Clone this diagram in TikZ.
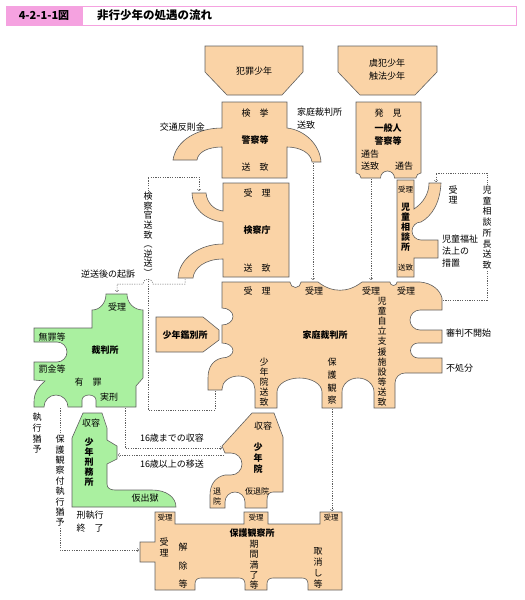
\documentclass[tikz,border=0pt]{standalone}
\usepackage{fontspec}
\newfontfamily\jp{Noto Sans CJK JP}
\definecolor{peach}{RGB}{250,211,166}
\definecolor{leaf}{RGB}{170,240,160}
\definecolor{rim}{RGB}{95,95,95}
\definecolor{bar}{RGB}{245,162,224}
\begin{document}
\begin{tikzpicture}[x=1pt,y=-1pt,
  font=\jp\fontsize{9}{10.5}\selectfont,
  box/.style={draw=rim, line width=0.6pt, fill=peach},
  gbox/.style={draw=rim, line width=0.6pt, fill=leaf},
  lab/.style={inner sep=0pt},
  org/.style={inner sep=0pt, font=\jp\bfseries\fontsize{9}{10}\selectfont},
  minor/.style={inner sep=0pt, font=\jp\fontsize{7.5}{8.5}\selectfont},
  vlab/.style={inner sep=0pt, align=center, anchor=north, font=\jp\fontsize{9}{#1}\selectfont},
  vlab/.default=10,
  flow/.style={->, draw=rim, line width=0.5pt, dash pattern=on 1.2pt off 1.2pt},
]
\useasboundingbox (0,0) rectangle (525,600);

% header
\fill[bar] (6,6) rectangle (83,25);
\draw[bar, line width=0.8pt] (6,6) rectangle (516,25);
\node[lab, font=\jp\bfseries\fontsize{11}{13}\selectfont] (figno) at (44,15.5) {4-2-1-1図};
\node[lab, anchor=west, font=\jp\bfseries\fontsize{11.5}{13}\selectfont] (figtitle) at (97,15.5) {非行少年の処遇の流れ};

% sources
\draw[box] (205,46) -- (303,46) -- (303,72) -- (282,95) -- (227,95) -- (205,72) -- cycle;
\node[lab] (hanzai) at (254,71) {犯罪少年};
\draw[box] (338,46) -- (437,46) -- (437,72) -- (415,95) -- (360,95) -- (338,72) -- cycle;
\node[lab, align=center, font=\jp\fontsize{9}{13}\selectfont] (guhan) at (387,70) {虞犯少年\\触法少年};

% police
\draw[box] (222,102) -- (287,102) -- (287,128) .. controls (305,130) and (320,145) .. (321,162) -- (312,162) .. controls (311,153) and (300,147) .. (287,147) -- (287,178) -- (222,178) -- (222,147) .. controls (208,147) and (198,152) .. (197,160) -- (173,160) .. controls (176,140) and (198,128) .. (222,128) -- cycle;
\node[lab] (kenkyo) at (255,113) {検\quad 挙};
\node[org] (keisatsu) at (255,140) {警察等};
\node[lab] (sochiA) at (255,167) {送\quad 致};
\node[lab, anchor=east] (hansoku) at (205,127) {交通反則金};
\node[lab, anchor=west, align=left, font=\jp\fontsize{9}{13}\selectfont] (kasaiSochi) at (297,119) {家庭裁判所\\送致};

\draw[box] (356,102) -- (421,102) -- (421,173) arc[start angle=270, end angle=180, radius=5] -- (394.5,178) arc[start angle=0, end angle=-180, radius=7] -- (361,178) arc[start angle=0, end angle=-90, radius=5] -- cycle;
\node[lab] (hakken) at (388,113) {発\quad 見};
\node[org, align=center, font=\jp\bfseries\fontsize{9}{13}\selectfont] (ippan) at (388,134.5) {一般人\\警察等};
\node[lab, align=center, font=\jp\fontsize{9}{12}\selectfont] (tsukokuSochi) at (370,160.5) {通告\\送致};
\node[lab] (tsukoku) at (404,166) {通告};

% public prosecutors office
\draw[box] (223,183) -- (289,183) -- (289,277) -- (223,277) -- (223,259) .. controls (205,259) and (194,268) .. (193,278) -- (178,278) .. controls (179,258) and (200,244) .. (223,244) -- (223,222) .. controls (205,220) and (192,208) .. (192,193) -- (206,193) .. controls (207,203) and (214,210) .. (223,211) -- cycle;
\node[lab] (kenJuri) at (257,193) {受\quad 理};
\node[org] (kensatsu) at (257,230) {検察庁};
\node[lab] (sochiB) at (257,268) {送\quad 致};

% child guidance center
\draw[box] (397,180) -- (414,180) -- (414,209) .. controls (423,203) and (429,194) .. (429,183) -- (441,183) .. controls (440,203) and (432,216) .. (421,222) arc[start angle=270, end angle=90, radius=9] -- (438,240) -- (438,258) -- (414,258) -- (414,277) -- (397,277) -- cycle;
\node[minor] (jsJuri) at (405.5,190) {受理};
\node[vlab, font=\jp\bfseries\fontsize{9}{10}\selectfont] (jido) at (405.5,203) {児\\童\\相\\談\\所};
\node[minor] (jsSochi) at (405.5,268) {送致};
\node[vlab] (jsJuriB) at (453,186) {受\\理};
\node[lab, anchor=north west, align=left, font=\jp\fontsize{9}{12}\selectfont] (fukushi) at (442,235) {児童福祉\\法上の\\措置};

% family court
\draw[box] (222,282) -- (290,282) arc[start angle=180, end angle=0, radius=5.5] -- (318,282) .. controls (332,293) and (348,293) .. (362,282) -- (390,282) arc[start angle=180, end angle=0, radius=3.5] -- (420,282) .. controls (432,283) and (440,290) .. (442,298) -- (442,310) -- (420,310) arc[start angle=270, end angle=90, radius=10] -- (442,330) -- (442,343) -- (418,343) arc[start angle=270, end angle=90, radius=7.5] -- (442,358) -- (442,373) -- (405,373) arc[start angle=270, end angle=180, radius=10] -- (395,408) -- (374,408) -- (374,392) arc[start angle=0, end angle=-180, x radius=16, y radius=14] -- (342,408) -- (322,408) -- (322,392) arc[start angle=0, end angle=-180, x radius=22.5, y radius=14] -- (277,408) -- (255,408) -- (255,389) arc[start angle=0, end angle=-180, x radius=16.5, y radius=13] -- (222,390) -- (208,390) -- (208,378) .. controls (208,367) and (213,360) .. (222,358) arc[start angle=90, end angle=-90, x radius=11, y radius=7.5] -- (222,325) arc[start angle=90, end angle=-90, x radius=11, y radius=8.5] -- cycle;
\node[lab] (fcJuriA) at (257,291) {受\quad 理};
\node[lab] (fcJuriB) at (314,291) {受理};
\node[lab] (fcJuriC) at (371,291) {受理};
\node[lab] (fcJuriD) at (406,291) {受理};
\node[org] (kasai) at (325,335) {家庭裁判所};
\node[vlab] (inSochi) at (264,358) {少\\年\\院\\送\\致};
\node[vlab=12.7] (hogo) at (332,358) {保\\護\\観\\察};
\node[vlab=10.1] (jiritsu) at (382,297) {児\\童\\自\\立\\支\\援\\施\\設\\等\\送\\致};
\node[lab, anchor=west] (fukaishi) at (446,333) {審判不開始};
\node[lab, anchor=west] (fushobun) at (446,368) {不処分};

% classification home
\draw[box] (156,317) -- (203,317) -- (219,330) -- (219,340) -- (203,352) -- (156,352) -- cycle;
\node[org] (kanbetsu) at (185,335) {少年鑑別所};

% criminal court
\draw[gbox] (106,294) -- (127,294) .. controls (127,303) and (134,310) .. (143,310) -- (143,378) -- (136,386) -- (136,407) -- (96,407) -- (96,400) arc[start angle=0, end angle=-180, x radius=7, y radius=5] -- (82,407) -- (68,407) arc[start angle=0, end angle=-180, radius=12] -- (34,407) -- (34,402) .. controls (34,392) and (39,386) .. (45,381) -- (34,380) -- (34,362) -- (57,362) arc[start angle=90, end angle=-90, radius=10] -- (34,342) -- (34,328) -- (92,328) -- (92,310) .. controls (100,310) and (106,303) .. (106,294) -- cycle;
\node[lab] (saiJuri) at (117,307) {受理};
\node[org] (saiban) at (105,350) {裁判所};
\node[lab] (muzai) at (52,337) {無罪等};
\node[lab] (bakkin) at (52,369) {罰金等};
\node[lab] (yuzai) at (88,382) {有\quad 罪};
\node[lab] (jikkei) at (109,397) {実刑};

% juvenile prison
\draw[gbox] (83,413) -- (102,413) -- (107,428) -- (107,440) -- (117,446) -- (117,459) -- (107,464) -- (107,484) .. controls (107,488) and (110,490) .. (115,490) -- (152,490) .. controls (166,490) and (176,497) .. (176,507) -- (72,507) -- (72,438) -- cycle;
\node[lab] (keiShuyo) at (91,423) {収容};
\node[vlab, font=\jp\bfseries\fontsize{9}{10}\selectfont] (keimusho) at (89,438) {少\\年\\刑\\務\\所};
\node[lab] (karishutsu) at (145,498) {仮出獄};

% juvenile training school
\draw[box] (252,413) -- (274,413) -- (283,437) -- (283,492) -- (273,492) .. controls (269,492) and (267,495) .. (267,500) -- (267,508) -- (245,508) -- (245,502) arc[start angle=0, end angle=-180, radius=10] -- (225,508) -- (210,508) -- (210,495) .. controls (210,485) and (215,477) .. (225,475) -- (231,475) arc[start angle=90, end angle=-90, radius=11] -- (225,453) -- (222,446) -- cycle;
\node[lab] (inShuyo) at (263,426) {収容};
\node[vlab, font=\jp\bfseries\fontsize{9}{11}\selectfont] (shonenin) at (258,443) {少\\年\\院};
\node[vlab, font=\jp\fontsize{8}{10}\selectfont] (taiin) at (217,488) {退\\院};
\node[lab, font=\jp\fontsize{8}{10}\selectfont] (karitaiin) at (257,491) {仮退院};

% probation office
\draw[box] (155,512) -- (175,512) -- (175,524) -- (244,524) -- (244,512) -- (268,512) -- (268,524) -- (320,524) -- (320,512) -- (342,512) -- (342,590) -- (308,590) -- (308,584) .. controls (308,580) and (306,578) .. (302,578) -- (273,578) .. controls (269,578) and (267,580) .. (267,584) -- (267,590) -- (245,590) -- (245,584) .. controls (245,580) and (243,578) .. (239,578) -- (201,578) .. controls (197,578) and (195,580) .. (195,584) -- (195,590) -- (155,590) -- (155,562) -- (140,562) -- (140,542) -- (155,542) -- cycle;
\node[minor] (hoJuriA) at (165,518) {受理};
\node[minor] (hoJuriB) at (256,518) {受理};
\node[minor] (hoJuriC) at (331,518) {受理};
\node[org] (hogosho) at (252,533.5) {保護観察所};
\node[vlab=11] (hoJuriD) at (164,538) {受\\理};
\node[vlab=18.5] (kaijo) at (183,543) {解\\除\\等};
\node[vlab=10.2] (kikan) at (254,540) {期\\間\\満\\了\\等};
\node[vlab=11] (torikeshi) at (318,547) {取\\消\\し\\等};

% connectors
\coordinate (armR) at (313,163);
\coordinate (fcInA) at (313,280);
\coordinate (tsuOut) at (371,179);
\coordinate (fcInB) at (371,280);
\coordinate (fcRight) at (443,300);
\coordinate (jsBend) at (487,173);
\coordinate (jsIn) at (436,182);
\coordinate (foot) at (215,391);
\coordinate (gyakuLow) at (148,410);
\coordinate (gyakuTop) at (148,177);
\coordinate (kenIn) at (199,191);
\coordinate (kenOut) at (185,279);
\coordinate (hop) at (148,284);
\coordinate (saiIn) at (117,292);
\coordinate (hogoOut) at (332,409);
\coordinate (hogoIn) at (332,511);
\coordinate (jitsuOut) at (125,408);
\coordinate (inIn) at (222,448);
\coordinate (inOut) at (224,455);
\coordinate (keiIn) at (118,455);
\coordinate (yuyoOut) at (60,408);
\coordinate (kanIn) at (139,550);

\draw[flow] (armR) -- (fcInA);
\draw[flow] (tsuOut) -- (fcInB);
\draw[flow] (fcRight) -| (jsBend) -| (jsIn);
\draw[flow] (foot) |- (gyakuLow) -- (gyakuTop) -| (kenIn);
\draw[flow] (kenOut) |- ([xshift=5pt]hop) arc[start angle=0, end angle=-180, radius=5] -| (saiIn);
\draw[flow] (hogoOut) -- (hogoIn);
\draw[flow] (jitsuOut) |- (inIn);
\draw[flow] (inOut) -- (keiIn);
\draw[flow] (yuyoOut) |- (kanIn);

% connector labels
\node[vlab=10.7, fill=white, inner sep=1pt] (jsChoSochi) at (487,185) {児\\童\\相\\談\\所\\長\\送\\致};
\node[vlab=9.6, fill=white, inner sep=1pt] (gyakuso) at (148,191) {検\\察\\官\\送\\致\\︵\\逆\\送\\︶};
\node[lab] (kiso) at (108,274) {逆送後の起訴};
\node[lab] (made16) at (172,438) {16歳までの収容};
\node[lab] (ijo16) at (172,464) {16歳以上の移送};
\node[vlab=10.7] (yuyo) at (37,413) {執\\行\\猶\\予};
\node[vlab=10.4, fill=white, inner sep=1pt] (hogoYuyo) at (60,434) {保\\護\\観\\察\\付\\執\\行\\猶\\予};
\node[lab, align=center, font=\jp\fontsize{9}{13}\selectfont] (keiShuryo) at (90,522) {刑執行\\終\quad 了};
\end{tikzpicture}
\end{document}
